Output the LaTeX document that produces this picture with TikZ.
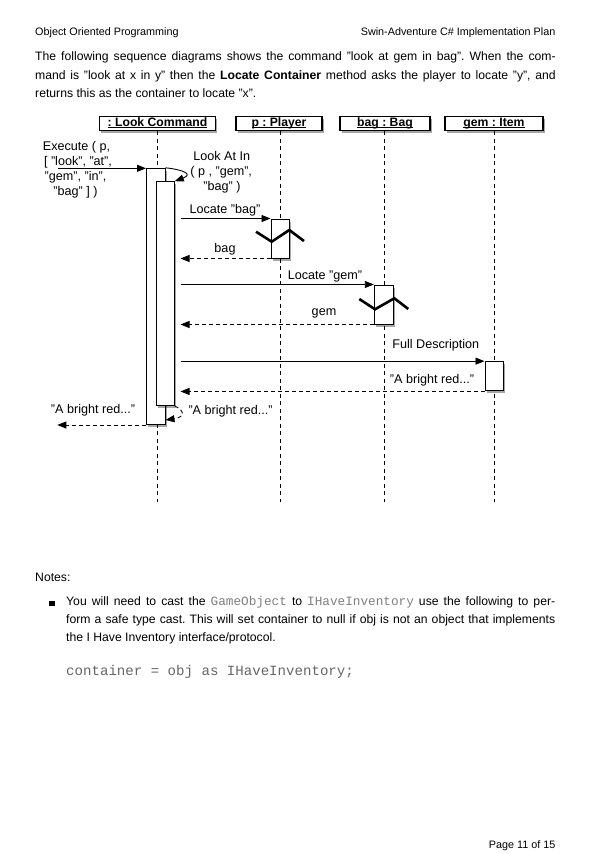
\documentclass[tikz,border=0pt]{standalone}
\usepackage{fontspec}
\setmainfont{Liberation Sans}
\setmonofont{Liberation Mono}
\usetikzlibrary{arrows.meta,shadows}
\newcommand\diafont{\fontsize{12.6}{15}\selectfont}
\newcommand\headfont{\fontsize{12.2}{15}\selectfont\bfseries}
\newcommand\hdrfont{\fontsize{10.8}{13}\selectfont}
\newcommand\parfont{\fontsize{12.2}{18}\selectfont}
\newcommand\codefont{\fontsize{14.1}{17}\ttfamily}
\newcommand\incode[1]{{\color{black!50}\fontsize{12.7}{15}\ttfamily #1}}
\newcommand\uln[1]{\leavevmode\setbox0\hbox{#1}\rlap{\rule[-1.6pt]{\wd0}{1pt}}\box0}
\frenchspacing
\begin{document}
\frenchspacing
\begin{tikzpicture}[x=1pt,y=-1pt,
  head/.style={draw, line width=1.1pt, fill=white, text height=10.2pt, text depth=4.2pt, inner sep=0pt,
    font=\headfont,
    drop shadow={shadow xshift=1.8pt, shadow yshift=-2.5pt, opacity=0.35, fill=black}},
  life/.style={line width=0.9pt, dash pattern=on 4pt off 3.5pt},
  actbar/.style={draw, fill=white, line width=1pt, inner sep=0pt,
    drop shadow={shadow xshift=1.8pt, shadow yshift=-2.5pt, opacity=0.35, fill=black}},
  msg/.style={line width=0.9pt, -{Triangle[length=9pt,width=7pt]}},
  ret/.style={msg, dash pattern=on 4pt off 3pt},
  lbl/.style={font=\diafont, anchor=base, inner sep=0pt},
  txt/.style={anchor=base west, inner sep=0pt, font=\parfont},
  kill/.style={line width=2.6pt},
]
\useasboundingbox[fill=white] (0,0) rectangle (593,854);

% header
\node[anchor=base west, inner sep=0pt, font=\hdrfont] (h1) at (35,35.5) {Object Oriented Programming};
\node[anchor=base east, inner sep=0pt, font=\hdrfont] (h2) at (555.5,35.5) {Swin-Adventure C\# Implementation Plan};

% paragraph
\node[txt] (p1) at (35,60.5) {\makebox[520.5pt][s]{The following sequence diagrams shows the command "look at gem in bag". When the com-}};
\node[txt] (p2) at (35,79) {\makebox[520.5pt][s]{mand is "look at x in y" then the \textbf{Locate Container} method asks the player to locate "y", and}};
\node[txt] (p3) at (35,97.5) {returns this as the container to locate "x".};

% heads
\node[head, minimum width=116pt] (lc) at (157.5,123.5) {\uln{: Look Command}};
\node[head, minimum width=86pt] (pl) at (279,123.5) {\uln{p : Player}};
\node[head, minimum width=90pt] (bg) at (385,123.5) {\uln{bag : Bag}};
\node[head, minimum width=98pt] (gm) at (494,123.5) {\uln{gem : Item}};

% lifelines
\coordinate (lcend) at (157.5,502);
\coordinate (plend) at (280,502);
\coordinate (bgend) at (384.3,502);
\coordinate (gmend) at (494.3,502);
\draw[life] (lc.south) -- (lcend);
\draw[life] (pl.south -| plend) -- (plend);
\draw[life] (bg.south -| bgend) -- (bgend);
\draw[life] (gm.south -| gmend) -- (gmend);

% activation bars
\node[actbar, minimum width=18.5pt, minimum height=256.2pt] (ob) at (155.75,296.4) {};
\node[actbar, minimum width=18.3pt, minimum height=223.8pt] (ib) at (165.15,293.6) {};
\node[actbar, minimum width=18pt, minimum height=39pt] (pb) at (280,238.5) {};
\node[actbar, minimum width=19pt, minimum height=39pt] (bb) at (383.8,304.5) {};
\node[actbar, minimum width=18pt, minimum height=29.3pt] (gb) at (494,376.3) {};

% execute
\coordinate (exs) at (58,168.3);
\draw[msg] (exs) -- (exs -| ob.west);
\node[lbl] (ex1) at (76.5,150.5) {Execute ( p,};
\node[lbl] (ex2) at (78,165.7) {[ "look", "at",};
\node[lbl] (ex3) at (75.5,180.7) {"gem", "in",};
\node[lbl] (ex4) at (75.5,195.7) {"bag" ] )};

% self call
\draw[msg] (ob.north east) .. controls (182,169.5) and (194,174) .. (ib.north east);
\node[lbl] (la1) at (221.7,160) {Look At In};
\node[lbl] (la2) at (221.2,175) {( p , "gem",};
\node[lbl] (la3) at (222,190) {"bag" )};

\coordinate (ibr) at ([xshift=5.7pt]ib.east);

% locate bag
\draw[msg] (ibr |- pb.north) -- (pb.north west);
\node[lbl] (lb) at (225,213.3) {Locate "bag"};
\draw[ret] (pb.south west) -- (ibr |- pb.south);
\node[lbl] (rb) at (225,252) {bag};
\draw[kill] (256,231.7) -- (271.7,241.7) -- (289.3,230) -- (304,241);

% locate gem
\draw[msg] (ibr |- bb.north) -- (bb.north west);
\node[lbl] (lg) at (325,279.3) {Locate "gem"};
\draw[ret] (bb.south west) -- (ibr |- bb.south);
\node[lbl] (rg) at (324,315.5) {gem};
\draw[kill] (359.3,299) -- (375,309.3) -- (394.3,298.3) -- (408.3,309);

% full description
\draw[msg] (ibr |- gb.north) -- (gb.north west);
\node[lbl] (fd) at (435.8,348.3) {Full Description};
\draw[ret] (gb.south west) -- (ibr |- gb.south);
\node[lbl] (rd) at (432,383.3) {"A bright red..."};

% self return
\coordinate (y420) at (0,420);
\draw[ret] (ib.south east) .. controls (184,410) and (186,417) .. (ob.east |- y420);
\node[lbl, anchor=base west] (sr) at (188.3,414.3) {"A bright red..."};

% final return
\coordinate (fin) at (57.3,0);
\draw[ret] (ob.south west) -- (fin |- ob.south west);
\node[lbl] (fr) at (93,413.3) {"A bright red..."};

% notes
\node[txt] (n0) at (35,581.5) {Notes:};
\node[fill=black, minimum size=5.5pt, inner sep=0pt] (bul) at (52,603.5) {};
\node[txt] (n1) at (66,605.2) {\makebox[489pt][s]{You will need to cast the \incode{GameObject} to \incode{IHaveInventory} use the following to per-}};
\node[txt] (n2) at (66,623.2) {\makebox[489pt][s]{form a safe type cast. This will set container to null if obj is not an object that implements}};
\node[txt] (n3) at (66,641) {the I Have Inventory interface/protocol.};
\node[anchor=base west, inner sep=0pt, font=\codefont, text=black!60] (code) at (66,675.5) {container = obj as IHaveInventory;};

% footer
\node[anchor=base east, inner sep=0pt, font=\hdrfont] (foot) at (555.5,848) {Page 11 of 15};
\end{tikzpicture}
\end{document}
